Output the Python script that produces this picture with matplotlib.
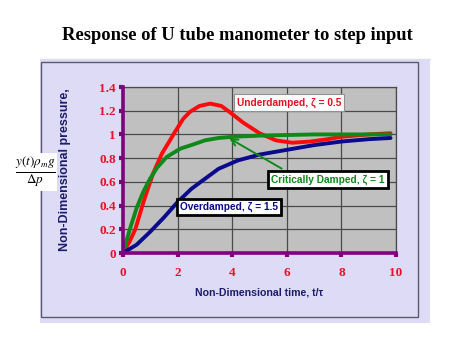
import matplotlib.pyplot as plt
from matplotlib.patches import Rectangle
from matplotlib.lines import Line2D

plt.rcParams['mathtext.fontset'] = 'stix'

# values
t_under = [0, 0.25, 0.45, 0.75, 1.1, 1.43, 1.72, 1.9, 2.2, 2.45, 2.8, 3.2, 3.6, 3.9, 4.4, 5.0, 5.6, 6.2, 6.85, 7.5, 8.0, 9.0, 9.8]
y_under = [0, 0.1, 0.2, 0.43, 0.67, 0.84, 0.95, 1.02, 1.13, 1.19, 1.24, 1.26, 1.24, 1.19, 1.1, 1.01, 0.95, 0.93, 0.94, 0.96, 0.98, 1.0, 1.01]

t_crit = [0, 0.25, 0.5, 0.75, 1.0, 1.25, 1.6, 2.1, 2.5, 3.0, 3.5, 4.0, 5.0, 6.0, 7.0, 8.0, 9.0, 9.8]
y_crit = [0, 0.2, 0.38, 0.52, 0.63, 0.72, 0.81, 0.88, 0.91, 0.95, 0.97, 0.98, 0.99, 0.995, 1.0, 1.0, 1.0, 1.0]

t_over = [0, 0.5, 1.0, 1.5, 2.0, 2.5, 2.85, 3.5, 4.2, 5.0, 6.0, 6.5, 7.0, 8.0, 9.0, 9.8]
y_over = [0, 0.07, 0.18, 0.3, 0.43, 0.54, 0.6, 0.71, 0.78, 0.83, 0.87, 0.89, 0.91, 0.94, 0.96, 0.97]

x_ticks = [0, 2, 4, 6, 8, 10]
x_tick_labels = ['0', '2', '4', '6', '8', '10']
y_ticks = [0, 0.2, 0.4, 0.6, 0.8, 1.0, 1.2, 1.4]
y_tick_labels = ['0', '0.2', '0.4', '0.6', '0.8', '1', '1.2', '1.4']

W, H = 474, 355

def fx(px):
    return px / W

def fy(py):
    return 1 - py / H

fig = plt.figure(figsize=(4.74, 3.55), dpi=100)
fig.patch.set_facecolor('white')

# lavender slide panel behind the chart
fig.add_artist(Rectangle((fx(40), fy(323)), 390 / W, 263 / H, transform=fig.transFigure,
                         facecolor='#dddbf5', edgecolor='none', zorder=0))
fig.add_artist(Rectangle((fx(41), fy(317)), 377 / W, 255 / H, transform=fig.transFigure,
                         facecolor='none', edgecolor='#5a5a70', lw=1.0, zorder=1))
fig.add_artist(Line2D([fx(40), fx(430)], [fy(59), fy(59)], transform=fig.transFigure,
                      color='#dcdcee', lw=1.0))

fig.text(0.5, fy(35), 'Response of U tube manometer to step input', ha='center', va='center',
         fontfamily='Liberation Serif', fontweight='bold', fontsize=13.3)

ax = fig.add_axes([fx(123), fy(253), 273 / W, 166 / H])
ax.set_facecolor('#c0c0c0')

ax.plot(t_under, y_under, color='#ff0a0a', lw=2.8, solid_capstyle='round', zorder=3)
ax.plot(t_crit, y_crit, color='#0f8a1a', lw=2.8, solid_capstyle='round', zorder=3)
ax.plot(t_over, y_over, color='#0a0a8c', lw=2.8, solid_capstyle='round', zorder=3)

ax.set_xlim(0, 10)
ax.set_ylim(0, 1.4)
ax.set_xticks(x_ticks)
ax.set_xticklabels(x_tick_labels, fontfamily='Liberation Serif', fontweight='bold')
ax.set_yticks(y_ticks)
ax.set_yticklabels(y_tick_labels, fontfamily='Liberation Serif', fontweight='bold')
ax.tick_params(axis='x', length=3, width=3, color='#800080', labelcolor='#e8102a', labelsize=9.5, pad=7)
ax.tick_params(axis='y', length=3, width=3, color='#800080', labelcolor='#e8102a', labelsize=9.5, pad=2)

ax.grid(True, color='#4a4a4a', lw=0.9)
ax.set_axisbelow(True)
for s in ['left', 'bottom']:
    ax.spines[s].set_color('#800080')
    ax.spines[s].set_linewidth(2.6)
    ax.spines[s].set_zorder(4)
for s in ['top', 'right']:
    ax.spines[s].set_color('#4a4a4a')
    ax.spines[s].set_linewidth(0.9)

ax.set_xlabel('Non-Dimensional time, t/\u03c4', fontfamily='Liberation Sans', fontweight='bold',
              fontsize=7.6, color='#1c1c6e', labelpad=6)
fig.text(fx(65), fy(170), 'Non-Dimensional pressure,', rotation=90, ha='center', va='center',
         fontfamily='Liberation Sans', fontweight='bold', fontsize=9, color='#1c1c6e')

fig.text(fx(35), fy(172), r'$\frac{y(t)\rho_m g}{\Delta p}$', ha='center', va='center', fontsize=13.5,
         bbox=dict(boxstyle='square,pad=0.1', fc='white', ec='none'))

# curve labels
ax.text(6.08, 1.27, 'Underdamped, \u03b6 = 0.5', ha='center', va='center', color='#e81020',
        fontfamily='Liberation Sans', fontweight='bold', fontsize=7.3, zorder=5,
        bbox=dict(boxstyle='square,pad=0.3', fc='white', ec='#909090', lw=0.8))
ax.text(7.5, 0.62, 'Critically Damped, \u03b6 = 1', ha='center', va='center', color='#0f8a1a',
        fontfamily='Liberation Sans', fontweight='bold', fontsize=7.3, zorder=5,
        bbox=dict(boxstyle='square,pad=0.3', fc='white', ec='black', lw=2))
ax.text(3.88, 0.39, 'Overdamped, \u03b6 = 1.5', ha='center', va='center', color='#0a0a8c',
        fontfamily='Liberation Sans', fontweight='bold', fontsize=7.3, zorder=5,
        bbox=dict(boxstyle='square,pad=0.3', fc='white', ec='black', lw=2))
ax.annotate('', xy=(3.8, 0.98), xytext=(5.9, 0.70),
            arrowprops=dict(arrowstyle='->', color='#0f8a1a', lw=1.4, mutation_scale=12), zorder=4)

fig.savefig('out.png', dpi=100)
